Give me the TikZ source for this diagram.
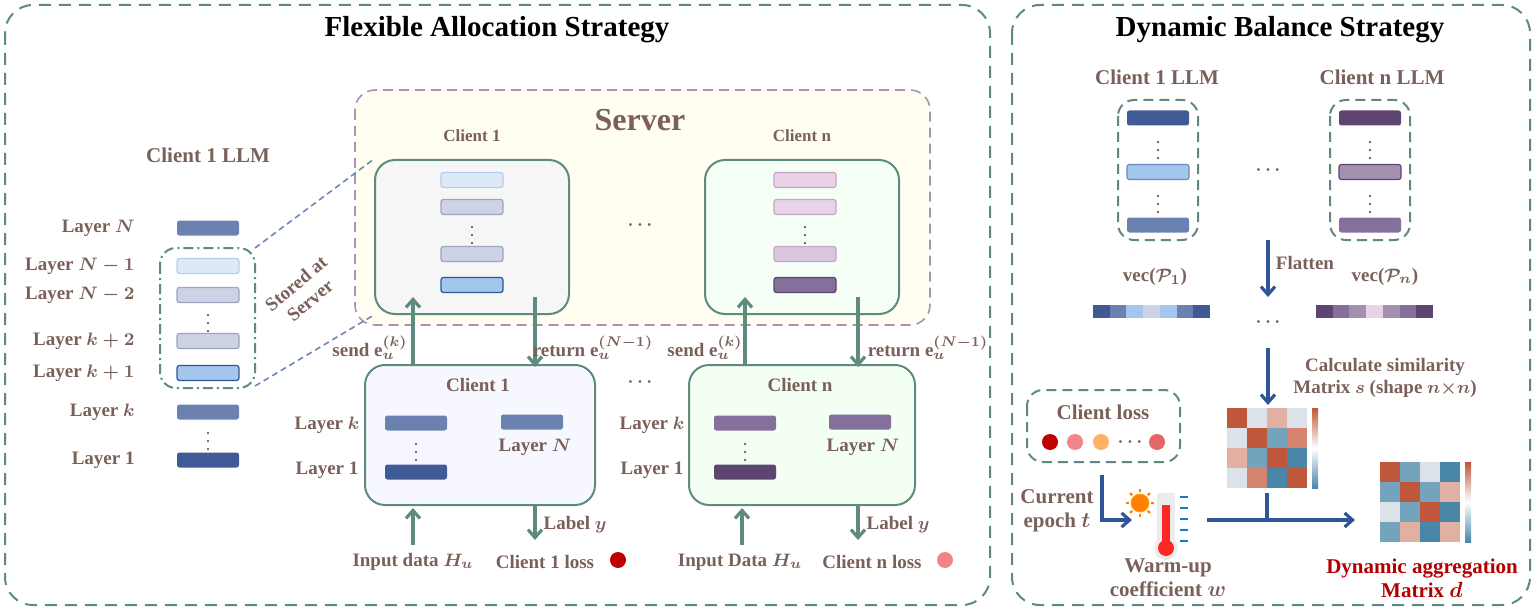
\documentclass[tikz,border=0pt]{standalone}
\usepackage{fontspec}
\setmainfont{Liberation Serif}
\usetikzlibrary{arrows.meta,calc}
\definecolor{tx}{HTML}{7A6058}
\definecolor{gr}{HTML}{5F8A7E}
\definecolor{ab}{HTML}{2F5597}
\definecolor{hr}{HTML}{C0573A}
\definecolor{hl}{HTML}{DCE3E8}
\definecolor{hp}{HTML}{E2AFA3}
\definecolor{hb}{HTML}{4A86A8}
\definecolor{hm}{HTML}{74A3BE}
\definecolor{ho}{HTML}{D4846E}
\definecolor{Lm}{HTML}{6B82B0}
\definecolor{Ld}{HTML}{3F5A94}
\definecolor{Lp}{HTML}{DDE9F7}
\definecolor{Lpd}{HTML}{B5CDEA}
\definecolor{Lg}{HTML}{CDD3E4}
\definecolor{Lgd}{HTML}{9AA5C4}
\definecolor{Lb}{HTML}{A3C6EC}
\definecolor{Pd}{HTML}{5E4470}
\definecolor{Pm}{HTML}{84709A}
\definecolor{Pl}{HTML}{A290AE}
\definecolor{Pp}{HTML}{E8D3E8}
\definecolor{Ppd}{HTML}{C9A5C9}
\definecolor{sv}{HTML}{A892B5}
\tikzset{
 txt/.style={text=tx,font=\bfseries\boldmath\fontsize{9.5}{11}\selectfont,inner sep=1pt},
 ttl/.style={text=black,font=\bfseries\fontsize{14.5}{16}\selectfont},
 lay/.style={rounded corners=1.2pt,minimum width=31pt,minimum height=7.5pt,inner sep=0pt,line width=0.6pt},
 box/.style={draw=gr,line width=1pt,rounded corners=10pt},
 garr/.style={draw=gr,line width=1.6pt,-{Straight Barb[length=4pt,width=7pt]}},
 barr/.style={draw=ab,line width=1.6pt,-{Straight Barb[length=4pt,width=7pt]}},
 dt/.style={circle,inner sep=0pt,minimum size=8pt},
}
\newcommand\vd[3]{\node[text=tx,font=\bfseries\fontsize{7}{7}\selectfont,inner sep=0pt] (#1) at (#2,#3) {$\vdots$};}
\newcommand\hmap[4]{% name x y colours
 \foreach \c [count=\i from 0] in {#4}{
  \pgfmathtruncatemacro\r{int(\i/4)}\pgfmathtruncatemacro\q{mod(\i,4)}
  \fill[\c] ($(#2,#3)+(\q*20,\r*20)$) rectangle ++(20,20);}
 \coordinate (#1) at ($(#2,#3)+(40,40)$);
 \shade[top color=hr,bottom color=hb,middle color=white] ($(#2,#3)+(85,0)$) rectangle ++(6,80);}
\begin{document}
\begin{tikzpicture}[x=0.5pt,y=-0.5pt]
\useasboundingbox (0,0) rectangle (1537,610);
% panels
\draw[gr,line width=1pt,dash pattern=on 6pt off 4pt,rounded corners=14pt] (5,5) rectangle (990,605);
\draw[gr,line width=1pt,dash pattern=on 6pt off 4pt,rounded corners=14pt] (1012,5) rectangle (1530,605);
\node[ttl] (t1) at (497,30) {Flexible Allocation Strategy};
\node[ttl] (t2) at (1280,30) {Dynamic Balance Strategy};
% server
\draw[draw=sv,fill=yellow!6,line width=0.8pt,dash pattern=on 5pt off 3pt,rounded corners=10pt] (355,90) rectangle (930,325);
\node[txt,font=\bfseries\fontsize{16}{18}\selectfont] (srv) at (640,120) {Server};
\node[box,fill=gray!7,minimum width=97pt,minimum height=77pt] (s1) at (472,237) {};
\node[box,fill=green!4,minimum width=97pt,minimum height=77pt] (sn) at (802,237) {};
\node[txt,font=\bfseries\fontsize{8.5}{10}\selectfont] (s1l) at (472,136) {Client 1};
\node[txt,font=\bfseries\fontsize{8.5}{10}\selectfont] (snl) at (802,136) {Client n};
\node[lay,fill=Lp,draw=Lpd] (a1) at (472,180) {};
\node[lay,fill=Lg,draw=Lgd] (a2) at (472,207) {};
\vd{a3}{472}{230}
\node[lay,fill=Lg,draw=Lgd] (a4) at (472,254) {};
\node[lay,fill=Lb,draw=ab] (a5) at (472,285) {};
\node[lay,fill=Pp,draw=Ppd] (b1) at (805,180) {};
\node[lay,fill=Pp,draw=Ppd] (b2) at (805,207) {};
\vd{b3}{805}{230}
\node[lay,fill=Pp!80!Pl,draw=Ppd] (b4) at (805,254) {};
\node[lay,fill=Pm,draw=Pd] (b5) at (805,285) {};
\node[txt] (sd) at (640,225) {$\cdots$};
% bottom clients
\node[box,fill=blue!3,minimum width=115pt,minimum height=70pt] (c1) at (480,435) {};
\node[box,fill=green!5,minimum width=113pt,minimum height=70pt] (cn) at (802,435) {};
\node[txt] (c1l) at (478,385) {Client 1};
\node[txt] (cnl) at (800,385) {Client n};
\node[lay,fill=Lm,draw=none] (d1) at (416,423) {};
\vd{d2}{416}{447}
\node[lay,fill=Ld,draw=none] (d3) at (416,472) {};
\node[lay,fill=Lm,draw=none] (d4) at (532,422) {};
\node[txt] (d5) at (535,447) {Layer $N$};
\node[txt] (d6) at (327,425) {Layer $k$};
\node[txt] (d7) at (327,470) {Layer 1};
\node[lay,fill=Pm,draw=none] (e1) at (745,423) {};
\vd{e2}{745}{447}
\node[lay,fill=Pd,draw=none] (e3) at (745,472) {};
\node[lay,fill=Pm,draw=none] (e4) at (860,422) {};
\node[txt] (e5) at (863,447) {Layer $N$};
\node[txt] (e6) at (652,425) {Layer $k$};
\node[txt] (e7) at (652,470) {Layer 1};
\node[txt] (cd) at (640,382) {$\cdots$};
% arrows
\coordinate (u1) at (413,297); \coordinate (u2) at (535,297);
\coordinate (v1) at (745,297); \coordinate (v2) at (858,297);
\draw[garr] (413,365) -- (u1);
\draw[garr] (u2) -- (535,367);
\draw[garr] (745,365) -- (v1);
\draw[garr] (v2) -- (858,367);
\node[txt] (sk1) at (370,348) {send e$_u^{(k)}$};
\node[txt] (rn1) at (593,348) {return e$_u^{(N-1)}$};
\node[txt] (skn) at (705,348) {send e$_u^{(k)}$};
\node[txt] (rnn) at (928,348) {return e$_u^{(N-1)}$};
\coordinate (i1) at (413,545); \coordinate (i2) at (535,540);
\coordinate (j1) at (742,545); \coordinate (j2) at (858,540);
\draw[garr] (i1) -- (413,508);
\draw[garr] (535,506) -- (i2);
\draw[garr] (j1) -- (742,508);
\draw[garr] (858,506) -- (j2);
\node[txt] (il) at (413,562) {Input data $H_u$};
\node[txt] (ly1) at (575,525) {Label $y$};
\node[txt] (cl1) at (545,562) {Client 1 loss};
\node[dt,fill=red!75!black] (dt1) at (618,560) {};
\node[txt] (jl) at (740,562) {Input Data $H_u$};
\node[txt] (lyn) at (898,525) {Label $y$};
\node[txt] (cln) at (872,562) {Client n loss};
\node[dt,fill=red!30!pink!90!gray] (dtn) at (945,560) {};
% left LLM
\node[txt,font=\bfseries\fontsize{10.5}{12}\selectfont] (llm) at (208,155) {Client 1 LLM};
\node[lay,fill=Lm,draw=none] (l1) at (208,228) {};
\node[lay,fill=Lp,draw=Lpd] (l2) at (208,266) {};
\node[lay,fill=Lg,draw=Lgd] (l3) at (208,295) {};
\vd{l4}{208}{318}
\node[lay,fill=Lg,draw=Lgd] (l5) at (208,341) {};
\node[lay,fill=Lb,draw=ab] (l6) at (208,373) {};
\node[lay,fill=Lm,draw=none] (l7) at (208,412) {};
\vd{l8}{208}{436}
\node[lay,fill=Ld,draw=none] (l9) at (208,460) {};
\foreach \n/\y/\t in {m1/228/Layer $N$,m2/266/Layer $N-1$,m3/295/Layer $N-2$,m5/341/Layer $k+2$,m6/373/Layer $k+1$,m7/412/Layer $k$,m9/460/Layer 1}
 \node[txt,anchor=east] (\n) at (137,\y) {\t};
\draw[gr,line width=1pt,dash pattern=on 5pt off 2pt on 1pt off 2pt,rounded corners=8pt] (160,248) rectangle (255,388);
\coordinate (q1) at (255,248); \coordinate (q2) at (255,386);
\draw[ab!70,line width=0.8pt,dash pattern=on 3pt off 2pt] (q1) -- (s1.north west);
\draw[ab!70,line width=0.8pt,dash pattern=on 3pt off 2pt] (q2) -- (s1.south west);
\node[txt,rotate=40,align=center] (sts) at (303,292) {Stored at\\Server};
% right panel
\node[txt,font=\bfseries\fontsize{10.5}{12}\selectfont] (r1) at (1157,77) {Client 1 LLM};
\node[txt,font=\bfseries\fontsize{10.5}{12}\selectfont] (r2) at (1382,77) {Client n LLM};
\draw[gr,line width=1pt,dash pattern=on 5pt off 3pt,rounded corners=8pt] (1118,100) rectangle (1198,240);
\draw[gr,line width=1pt,dash pattern=on 5pt off 3pt,rounded corners=8pt] (1330,100) rectangle (1410,240);
\node[lay,fill=Ld,draw=none] (f1) at (1158,118) {};
\vd{f2}{1158}{145}
\node[lay,fill=Lb,draw=ab!70] (f3) at (1158,172) {};
\vd{f4}{1158}{199}
\node[lay,fill=Lm,draw=none] (f5) at (1158,225) {};
\node[lay,fill=Pd,draw=none] (g1) at (1370,118) {};
\vd{g2}{1370}{145}
\node[lay,fill=Pl,draw=Pd] (g3) at (1370,172) {};
\vd{g4}{1370}{199}
\node[lay,fill=Pm,draw=none] (g5) at (1370,225) {};
\node[txt] (rd) at (1268,170) {$\cdots$};
\coordinate (fa) at (1268,240); \coordinate (fb) at (1268,297);
\draw[barr] (fa) -- (fb);
\node[txt] (fl) at (1305,263) {Flatten};
\node[txt] (vp1) at (1155,277) {vec($\mathcal{P}_1$)};
\node[txt] (vpn) at (1385,277) {vec($\mathcal{P}_n$)};
\foreach \c [count=\i from 0] in {Ld,Lm,Lb,Lg,Lb,Lm,Ld}
 \fill[\c] (1093+\i*16.7,305) rectangle ++(16.7,13);
\foreach \c [count=\i from 0] in {Pd,Pm,Pl,Pp,Pl,Pm,Pd}
 \fill[\c] (1316+\i*16.7,305) rectangle ++(16.7,13);
\node[txt] (rd2) at (1268,322) {$\cdots$};
\coordinate (ga) at (1268,348); \coordinate (gb) at (1268,405);
\draw[barr] (ga) -- (gb);
\node[txt,align=center] (cs) at (1385,378) {Calculate similarity\\Matrix $s$ (shape $n{\times}n$)};
\draw[gr,line width=1pt,dash pattern=on 5pt off 3pt,rounded corners=8pt] (1027,390) rectangle (1180,462);
\node[txt,font=\bfseries\fontsize{10.5}{12}\selectfont] (clt) at (1103,412) {Client loss};
\node[dt,fill=red!75!black] (p1) at (1050,442) {};
\node[dt,fill=red!30!pink!90!gray] (p2) at (1075,442) {};
\node[dt,fill=orange!60] (p3) at (1101,442) {};
\node[txt] (p4) at (1130,442) {$\cdots$};
\node[dt,fill=red!50!pink!80!gray] (p5) at (1157,442) {};
\hmap{hs}{1227}{408}{hr,hl,hp,hl,hl,hr,hm,ho,hp,hm,hr,hb,hl,ho,hb,hr}
\hmap{hd}{1380}{462}{hr,hm,hl,hb,hm,hr,hm,hp,hl,hm,hr,hb,hm,hp,hb,hp}
% warmup
\coordinate (w0) at (1102,475); \coordinate (w1) at (1132,520);
\draw[barr] (w0) |- (w1);
\node[txt,font=\bfseries\boldmath\fontsize{10.5}{12}\selectfont,align=center] (ce) at (1057,511) {Current\\epoch $t$};
\fill[gray!15] (1157,493) rectangle (1175,545);
\fill[gray!15] (1166,548) circle (12);
\fill[red!80!pink] (1162,505) rectangle (1170,545);
\fill[red!80!pink] (1166,548) circle (8);
\node[circle,fill=orange,draw=orange!70!yellow,minimum size=9pt,inner sep=0pt] (sun) at (1140,503) {};
\foreach \a in {0,45,...,315} \draw[orange,line width=1.2pt] ($(sun)+(\a:11)$) -- ($(sun)+(\a:14)$);
\foreach \y in {497,508,519,530,541} \draw[cyan!60!blue,line width=1.2pt] (1180,\y) -- (1188,\y);
\coordinate (h0) at (1207,520); \coordinate (h1) at (1355,520); \coordinate (h2) at (1267,493);
\draw[barr] (h0) -- (h1);
\draw[ab,line width=1.6pt] (h2) -- (1267,520);
\node[txt,font=\bfseries\boldmath\fontsize{10.5}{12}\selectfont,align=center] (wu) at (1168,578) {Warm-up\\coefficient $w$};
\node[txt,text=red!70!black,font=\bfseries\boldmath\fontsize{10.5}{12}\selectfont,align=center] (da) at (1422,578) {Dynamic aggregation\\Matrix $d$};
\end{tikzpicture}
\end{document}
